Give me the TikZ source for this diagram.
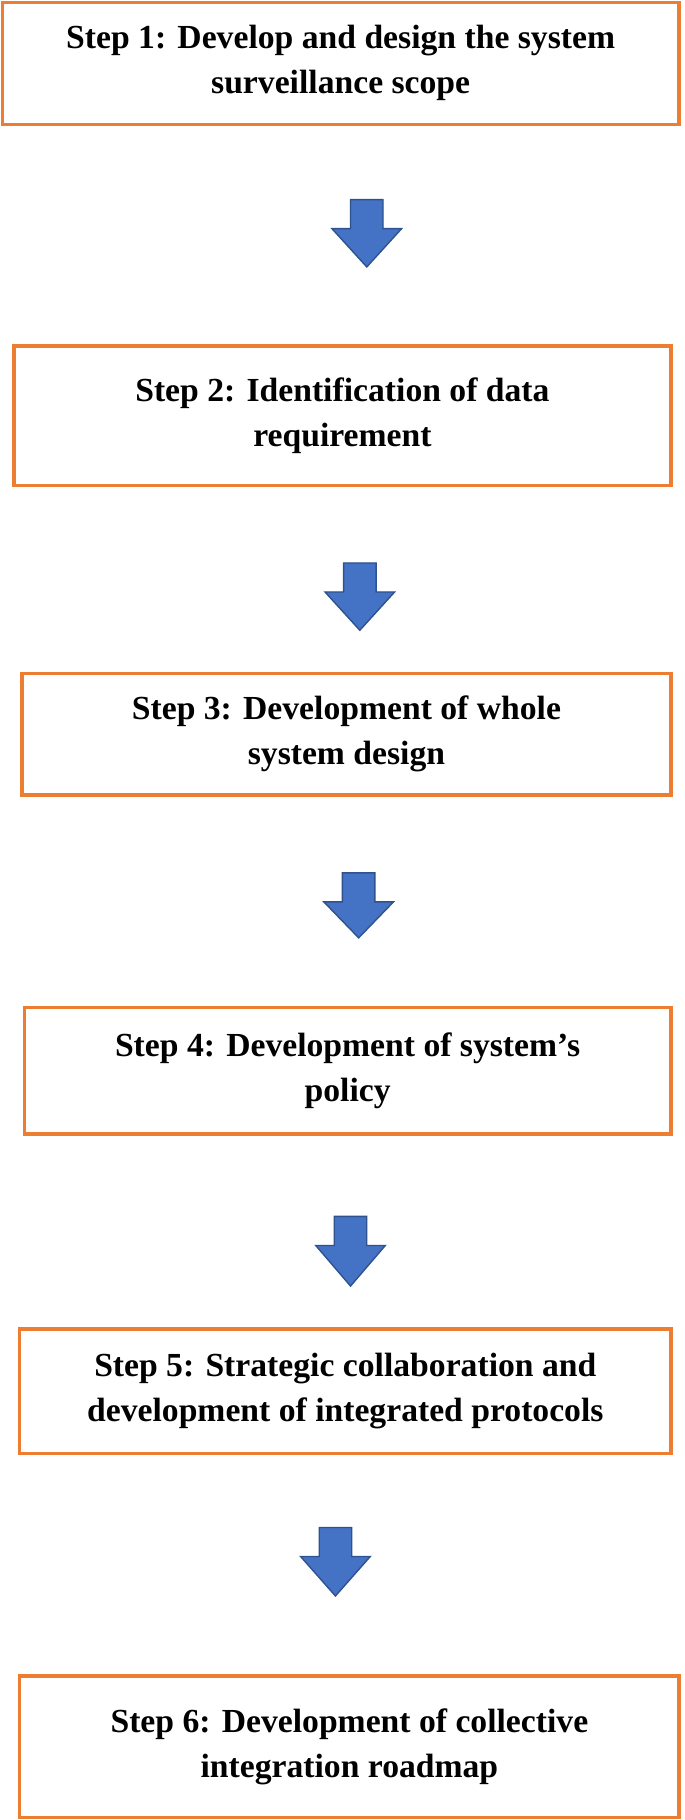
\documentclass[tikz,border=0pt]{standalone}
\usepackage{fontspec}
\setmainfont{Liberation Serif}
\definecolor{boxorange}{HTML}{ED7D31}
\definecolor{arrowblue}{HTML}{4472C4}
\definecolor{arrowedge}{HTML}{2F528F}
\tikzset{
	stepbox/.style={draw=boxorange, line width=2.8pt, align=center,
		font=\fontsize{29}{39}\selectfont\bfseries, inner sep=0pt},
	blockarrow/.style={fill=arrowblue, draw=arrowedge, line width=1.2pt},
}
% block arrow: centre x, top y, bottom y
\newcommand{\blockdown}[3]{%
	\draw[blockarrow] (#1-14,#2) -- (#1+14,#2) -- (#1+14,#2+25) -- (#1+30,#2+25)
		-- (#1,#3) -- (#1-30,#2+25) -- (#1-14,#2+25) -- cycle;}
\begin{document}
\begin{tikzpicture}[x=1pt,y=-1pt]
	\useasboundingbox (0,0) rectangle (590,1568);
	\node[stepbox, minimum width=583, minimum height=105] (s1) at (293.5,54.5)
		{Step 1: Develop and design the system\\surveillance scope};
	\node[stepbox, minimum width=566, minimum height=120] (s2) at (295,358)
		{Step 2: Identification of data\\requirement};
	\node[stepbox, minimum width=559, minimum height=105] (s3) at (298.5,632.5)
		{Step 3: Development of whole\\system design};
	\node[stepbox, minimum width=557, minimum height=109] (s4) at (299.5,922.5)
		{Step 4: Development of system’s\\policy};
	\node[stepbox, minimum width=561, minimum height=107] (s5) at (297.5,1198.5)
		{Step 5: Strategic collaboration and\\development of integrated protocols};
	\node[stepbox, minimum width=568, minimum height=122] (s6) at (301,1505)
		{Step 6: Development of collective\\integration roadmap};
	%
	\blockdown{316}{172}{230}
	\blockdown{310}{485}{543}
	\blockdown{309}{752}{808}
	\blockdown{302}{1048}{1108}
	\blockdown{289}{1316}{1375}
\end{tikzpicture}
\end{document}
